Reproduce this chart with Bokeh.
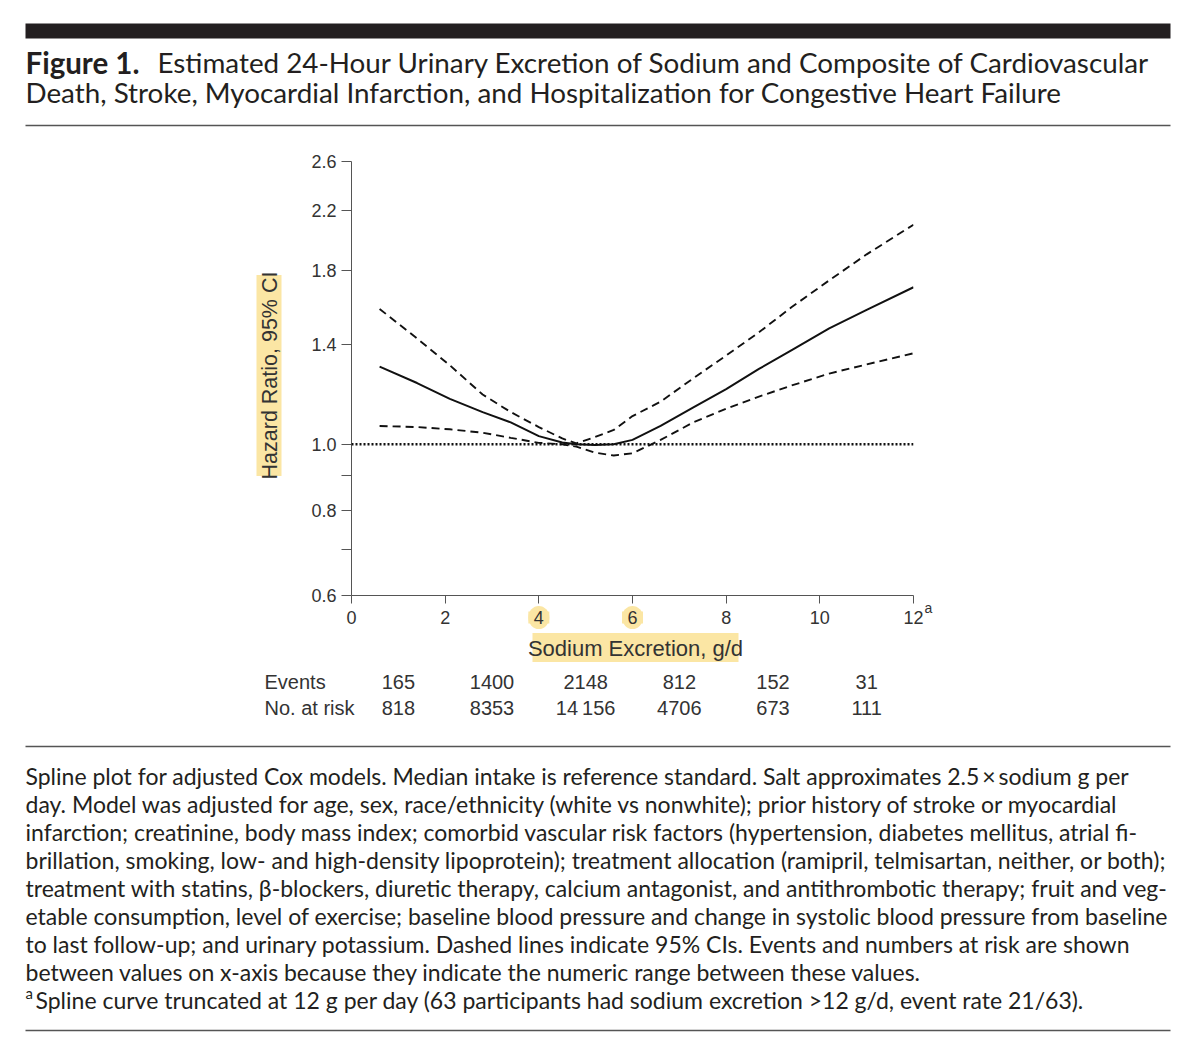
import math
from bokeh.plotting import figure
from bokeh.models import (FixedTicker, PrintfTickFormatter, Span, Range1d,
                          ColumnDataSource, LinearScale)
from bokeh.core.properties import value
from bokeh.embed import file_html
from bokeh.resources import INLINE

# ---------------- data ----------------
sodium_x = [0.6, 1.4, 2.1, 2.8, 3.4, 4.0, 4.5, 4.8, 5.2, 5.6, 6.0, 6.6, 7.3, 8.0, 8.7, 9.4, 10.2, 11.0, 12.0]
hr_estimate = [1.30, 1.23, 1.166, 1.115, 1.077, 1.028, 1.006, 1.0, 0.998, 1.0, 1.015, 1.064, 1.133, 1.205, 1.29, 1.375, 1.48, 1.575, 1.70]
hr_upper = [1.58, 1.43, 1.306, 1.183, 1.115, 1.06, 1.02, 1.003, 1.025, 1.05, 1.10, 1.155, 1.25, 1.35, 1.46, 1.59, 1.74, 1.90, 2.10]
hr_lower = [1.064, 1.06, 1.052, 1.04, 1.022, 1.005, 1.0, 0.992, 0.972, 0.963, 0.97, 1.015, 1.077, 1.128, 1.175, 1.22, 1.27, 1.31, 1.36]
reference_hr = 1.0

x_ticks = [0, 2, 4, 6, 8, 10, 12]
highlighted_x_ticks = [4, 6]
y_major_ticks = [0.6, 0.8, 1.0, 1.4, 1.8, 2.2, 2.6]
y_minor_ticks = [0.7, 0.9]

interval_mid = [1, 3, 5, 7, 9, 11]
events = ["165", "1400", "2148", "812", "152", "31"]
at_risk = ["818", "8353", "14\u2009156", "4706", "673", "111"]

title_bold = "Figure 1."
title_line1 = "Estimated 24-Hour Urinary Excretion of Sodium and Composite of Cardiovascular"
title_line2 = "Death, Stroke, Myocardial Infarction, and Hospitalization for Congestive Heart Failure"
x_label = "Sodium Excretion, g/d"
y_label = "Hazard Ratio, 95% CI"
caption_lines = [
    "Spline plot for adjusted Cox models. Median intake is reference standard. Salt approximates 2.5\u2009\u00d7\u2009sodium g per",
    "day. Model was adjusted for age, sex, race/ethnicity (white vs nonwhite); prior history of stroke or myocardial",
    "infarction; creatinine, body mass index; comorbid vascular risk factors (hypertension, diabetes mellitus, atrial fi-",
    "brillation, smoking, low- and high-density lipoprotein); treatment allocation (ramipril, telmisartan, neither, or both);",
    "treatment with statins, \u03b2-blockers, diuretic therapy, calcium antagonist, and antithrombotic therapy; fruit and veg-",
    "etable consumption, level of exercise; baseline blood pressure and change in systolic blood pressure from baseline",
    "to last follow-up; and urinary potassium. Dashed lines indicate 95% CIs. Events and numbers at risk are shown",
    "between values on x-axis because they indicate the numeric range between these values.",
]
footnote = "Spline curve truncated at 12 g per day (63 participants had sodium excretion >12 g/d, event rate 21/63)."

# ---------------- styling ----------------
TEXT = "#231f20"
CHART_TEXT = "#333333"
AXIS = "#555555"
PILL = "#fbe6a4"
HUM = "Lato"
SANS = "Liberation Sans"

W, H = 1184, 1041
FL, FT, FW, FH = 351, 161, 562, 434

p = figure(frame_width=FW, frame_height=FH,
           min_border_left=FL, min_border_top=FT,
           min_border_right=W - FL - FW, min_border_bottom=H - FT - FH,
           x_range=Range1d(0, 12), y_range=Range1d(0.6, 2.6), y_axis_type="log",
           output_backend="svg", toolbar_location=None)
# pixel-space ranges used only for page decorations (title, caption, rules)
p.extra_x_ranges = {"px": Range1d(FL, FL + FW)}
p.extra_y_ranges = {"py": Range1d(FT + FH, FT)}
p.extra_x_scales = {"px": LinearScale()}
p.extra_y_scales = {"py": LinearScale()}

p.outline_line_color = None
p.background_fill_color = "white"
p.border_fill_color = "white"
p.xgrid.visible = False
p.ygrid.visible = False

# axes
xa = p.xaxis[0]
xa.ticker = FixedTicker(ticks=x_ticks)
xa.major_label_overrides = {t: "" for t in highlighted_x_ticks}
xa.major_tick_out = 8
xa.major_tick_in = 0
xa.minor_tick_out = 0
xa.minor_tick_in = 0
xa.axis_line_color = AXIS
xa.major_tick_line_color = AXIS
xa.major_label_text_font = SANS
xa.major_label_text_font_size = "18px"
xa.major_label_text_color = CHART_TEXT
xa.major_label_standoff = 7

ya = p.yaxis[0]
ya.ticker = FixedTicker(ticks=y_major_ticks, minor_ticks=y_minor_ticks)
ya.formatter = PrintfTickFormatter(format="%.1f")
ya.major_tick_out = 10
ya.major_tick_in = 0
ya.minor_tick_out = 10
ya.minor_tick_in = 0
ya.axis_line_color = AXIS
ya.major_tick_line_color = AXIS
ya.minor_tick_line_color = AXIS
ya.major_label_text_font = SANS
ya.major_label_text_font_size = "18px"
ya.major_label_text_color = CHART_TEXT
ya.major_label_standoff = 5

# reference line and curves
p.add_layout(Span(location=reference_hr, dimension="width", line_color="#111111",
                  line_width=2.4, line_dash="2 2"))
src = ColumnDataSource(dict(x=sodium_x, est=hr_estimate, up=hr_upper, lo=hr_lower))
p.line("x", "up", source=src, line_color="#111111", line_width=1.9, line_dash="8 5")
p.line("x", "lo", source=src, line_color="#111111", line_width=1.9, line_dash="8 5")
p.line("x", "est", source=src, line_color="#111111", line_width=2)

PXY = dict(x_range_name="px", y_range_name="py", level="overlay")
PY = dict(y_range_name="py", level="overlay")

# ---- black bar and rules ----
p.quad(left=[25], right=[1170], top=[23], bottom=[38], fill_color="#231f20",
       line_color=None, **PXY)
p.segment(x0=[25, 25, 25], x1=[1170, 1170, 1170], y0=[125, 746, 1030], y1=[125, 746, 1030],
          line_color="#555555", line_width=1.6, **PXY)

# ---- title ----
p.text(x=[25], y=[62], text=[title_bold], text_align="left", text_baseline="middle",
       text_font=value(HUM), text_font_style="bold", text_font_size="29.5px",
       text_color=TEXT, **PXY)
p.text(x=[157, 25], y=[62, 92], text=[title_line1, title_line2], text_align="left",
       text_baseline="middle", text_font=value(HUM), text_font_size="27.8px",
       text_color=TEXT, **PXY)

# ---- highlight pills ----
p.rect(x=[635], y=[647], width=[206], height=[29], fill_color=PILL, line_color=None, **PXY)
p.circle(x=[532, 738], y=[647, 647], radius=14.5, fill_color=PILL, line_color=None, **PXY)
p.rect(x=[268.5], y=[375], width=[25], height=[201], fill_color=PILL, line_color=None, **PXY)
p.circle(x=[268.5, 268.5], y=[274.5, 475.5], radius=12.5, fill_color=PILL, line_color=None, **PXY)
p.ellipse(x=highlighted_x_ticks, y=[617] * len(highlighted_x_ticks), width=21, height=23,
          width_units="screen", height_units="screen", fill_color=PILL, line_color=None, **PY)
p.rect(x=highlighted_x_ticks, y=[617] * len(highlighted_x_ticks), width=21, height=12,
       width_units="screen", height_units="screen", fill_color=PILL, line_color=None, **PY)

# ---- chart texts ----
p.text(x=highlighted_x_ticks, y=[617] * len(highlighted_x_ticks),
       text=[str(t) for t in highlighted_x_ticks], text_align="center", text_baseline="middle",
       text_font=value(SANS), text_font_size="18px", text_color=CHART_TEXT, **PY)
p.text(x=[12], y=[607], x_offset=11, text=["a"], text_align="left", text_baseline="middle",
       text_font=value(SANS), text_font_size="14px", text_color=CHART_TEXT, **PY)
p.text(x=[635], y=[648], text=[x_label], text_align="center", text_baseline="middle",
       text_font=value(SANS), text_font_size="22px", text_color=CHART_TEXT, **PXY)
p.text(x=[269], y=[375], text=[y_label], angle=math.pi / 2, text_align="center",
       text_baseline="middle", text_font=value(SANS), text_font_size="21.5px",
       text_color=CHART_TEXT, **PXY)

# events / at risk table
p.text(x=[264, 264], y=[681, 707], text=["Events", "No. at risk"], text_align="left",
       text_baseline="middle", text_font=value(SANS), text_font_size="20px",
       text_color=CHART_TEXT, **PXY)
p.text(x=interval_mid, y=[681] * len(events), text=events, text_align="center",
       text_baseline="middle", text_font=value(SANS), text_font_size="20px",
       text_color=CHART_TEXT, **PY)
p.text(x=interval_mid, y=[707] * len(at_risk), text=at_risk, text_align="center",
       text_baseline="middle", text_font=value(SANS), text_font_size="20px",
       text_color=CHART_TEXT, **PY)

# ---- caption ----
p.text(x=[25] * len(caption_lines), y=[775 + 28 * i for i in range(len(caption_lines))],
       text=caption_lines, text_align="left", text_baseline="middle",
       text_font=value(HUM), text_font_size="23px", text_color=TEXT, **PXY)
p.text(x=[25], y=[992], text=["a"], text_align="left", text_baseline="middle",
       text_font=value(HUM), text_font_size="15px", text_color=TEXT, **PXY)
p.text(x=[35], y=[999], text=[footnote], text_align="left", text_baseline="middle",
       text_font=value(HUM), text_font_size="23px", text_color=TEXT, **PXY)

open("out.html", "w").write(file_html(p, INLINE))
